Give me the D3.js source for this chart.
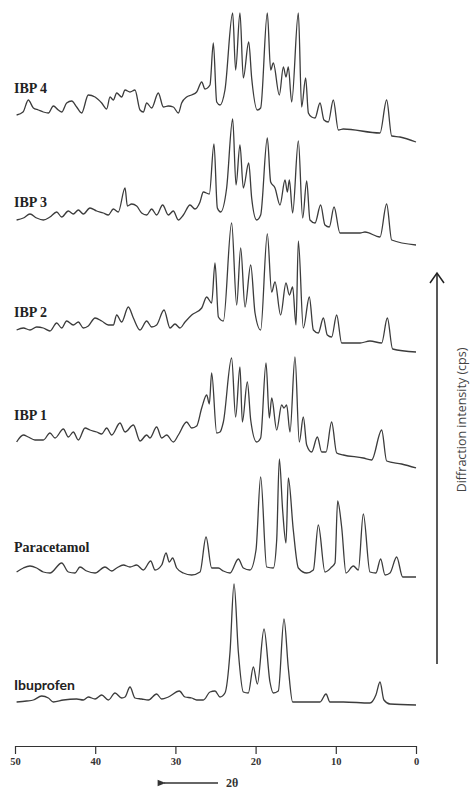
<!DOCTYPE html>
<html>
<head>
<meta charset="utf-8">
<script src="https://cdn.jsdelivr.net/npm/d3@7"></script>
<style>
    body { margin: 0; background: #fff; }
    .trace { fill: none; stroke: #3c3c3c; stroke-width: 1.3; stroke-linejoin: round; }
    .sampleLabel { font-family: "Liberation Serif", serif; font-weight: bold; font-size: 14px; fill: #222; }
    .axis text { font-family: "Liberation Serif", serif; font-weight: bold; font-size: 10.5px; fill: #333; }
    .axis path, .axis line { stroke: #333; stroke-width: 1.2; }
</style>
</head>
<body>
<script>
//XRD patterns of ibuprofen, paracetamol and the IBP 1-4 samples

//sample names, top to bottom
var samples = ["IBP 4", "IBP 3", "IBP 2", "IBP 1", "Paracetamol", "Ibuprofen"];

//vertical offset of each pattern (same units as the intensities)
var offsets = [601, 501, 391, 276, 166, 36];

//x axis ticks (2 theta, degrees)
var xTicks = [50, 40, 30, 20, 10, 0];

//patterns as [2theta, intensity]
var ibp4 = [[49.8,30],[49.0,33],[48.34,45],[47.71,37],[47.09,35],[46.47,33],[45.84,32],[45.22,39],[44.6,35],[44.18,33],
    [43.56,42],[42.93,44],[42.31,38],[41.69,32],[40.86,50],[40.02,48],[39.19,42],[38.57,36],[38.15,48],[37.74,45],
    [37.32,52],[36.7,48],[36.28,55],[35.66,53],[35.04,55],[34.41,35],[34.0,33],[33.58,42],[32.96,37],[32.13,52],
    [31.5,38],[30.88,39],[30.26,38],[29.63,32],[29.22,42],[28.6,48],[27.97,50],[27.35,53],[26.72,63],[26.31,56],
    [25.69,60],[25.27,102],[24.85,43],[24.44,40],[23.82,55],[22.86,132],[22.49,75],[21.95,132],[21.53,67],[20.86,103],
    [20.49,67],[19.78,35],[19.37,37],[18.54,132],[18.12,75],[17.79,82],[17.04,50],[16.54,78],[16.21,68],[15.92,78],
    [15.5,43],[14.67,132],[14.26,38],[13.76,67],[13.42,32],[13.01,28],[12.59,27],[11.97,42],[11.47,25],[10.93,23],
    [10.31,45],[9.68,15],[9.06,16],[4.49,12],[3.66,45],[3.03,9],[2.0,8],[0,3]];

var ibp3 = [[49.8,25],[48.96,27],[48.13,31],[47.3,27],[46.47,25],[45.64,28],[44.8,33],[44.18,28],[43.35,34],[42.73,31],
    [42.1,35],[41.48,31],[40.65,37],[39.82,34],[38.99,32],[38.36,30],[37.74,36],[37.12,33],[36.28,57],[35.99,39],
    [35.45,41],[34.83,39],[34.21,32],[33.58,30],[32.96,36],[32.34,30],[31.59,40],[30.88,30],[30.26,34],[29.63,25],
    [29.01,30],[28.18,40],[27.56,36],[26.93,43],[26.52,53],[25.77,51],[25.19,101],[24.77,37],[24.36,33],[23.61,57],
    [22.86,126],[22.44,60],[21.95,100],[21.53,57],[20.86,82],[20.49,47],[19.87,25],[19.37,30],[18.54,107],[18.12,63],
    [17.58,57],[16.96,40],[16.33,65],[16.04,53],[15.79,65],[15.38,32],[14.67,104],[14.13,27],[13.63,64],[13.22,25],
    [12.59,22],[11.89,40],[11.35,20],[10.81,18],[10.22,38],[9.48,12],[6.98,12],[6.36,13],[4.49,8],[3.66,41],
    [3.03,5],[0,0]];

var ibp2 = [[49.8,25],[48.96,27],[48.13,25],[47.3,28],[46.47,27],[45.64,24],[44.8,32],[44.18,27],[43.56,34],[42.73,30],
    [42.1,33],[41.48,27],[40.86,29],[40.02,37],[39.19,34],[38.36,30],[37.74,30],[37.32,40],[36.7,33],[35.87,48],
    [35.24,37],[34.41,25],[33.58,34],[32.96,28],[32.34,30],[31.42,45],[30.67,27],[30.05,31],[29.43,27],[28.8,33],
    [27.97,40],[26.72,47],[26.1,58],[25.48,52],[25.06,92],[24.64,38],[24.02,34],[22.99,132],[22.36,50],[21.86,107],
    [21.32,48],[20.61,90],[20.07,42],[19.37,25],[18.54,121],[18.0,63],[17.58,73],[16.88,40],[16.21,72],[15.79,60],
    [15.38,68],[14.96,30],[14.67,114],[14.05,27],[13.3,58],[12.8,25],[12.18,22],[11.55,37],[11.06,20],[10.52,18],
    [9.89,40],[9.27,12],[6.98,12],[5.74,14],[4.28,12],[3.57,37],[2.92,6],[0,3]];

var ibp1 = [[49.8,28],[48.96,35],[48.34,33],[47.51,30],[46.47,30],[45.64,37],[45.01,32],[43.97,41],[43.35,33],[42.73,38],
    [42.1,30],[41.27,42],[40.65,40],[39.82,38],[39.19,36],[38.57,42],[37.94,35],[36.91,47],[36.28,38],[35.24,45],
    [34.41,29],[33.58,35],[33.17,32],[32.34,43],[31.71,32],[31.09,35],[30.26,28],[29.63,35],[28.6,48],[27.97,42],
    [27.35,44],[26.72,62],[26.1,75],[25.77,66],[25.48,97],[24.85,37],[24.44,38],[24.02,48],[22.99,112],[22.49,53],
    [21.95,103],[21.65,48],[21.03,88],[20.61,50],[19.87,28],[19.37,32],[18.7,107],[18.29,52],[17.99,72],[17.37,40],
    [16.75,65],[16.46,62],[16.13,65],[15.71,38],[15.09,113],[14.55,28],[14.05,53],[13.63,25],[13.01,18],[12.3,33],
    [11.76,18],[11.22,18],[10.52,48],[9.89,17],[9.06,15],[6.57,12],[5.53,10],[4.28,40],[3.66,9],[1.79,6],[0,2]];

var paracetamol = [[49.8,8],[48.96,12],[48.13,14],[47.3,12],[46.47,8],[45.64,7],[44.18,17],[43.35,8],[42.52,7],[41.9,13],
    [41.06,9],[40.02,7],[38.78,13],[37.94,9],[37.32,12],[36.49,15],[35.66,13],[34.83,15],[34.0,10],[33.08,19],
    [32.54,10],[31.71,15],[31.17,27],[30.76,18],[30.34,22],[29.84,12],[29.01,7],[27.97,5],[26.93,8],[26.18,43],
    [25.48,12],[24.65,12],[24.02,9],[23.19,7],[22.15,21],[21.53,12],[20.7,10],[19.95,30],[19.37,103],[18.62,13],
    [17.79,12],[17.37,40],[17.04,121],[16.63,70],[16.21,37],[15.92,102],[15.3,50],[14.67,12],[13.63,7],[12.8,10],
    [12.18,55],[11.35,8],[10.52,13],[10.1,17],[9.77,79],[9.27,53],[8.73,7],[7.81,14],[7.19,10],[6.57,66],
    [5.74,8],[5.0,7],[4.41,21],[3.86,5],[3.24,7],[2.41,23],[1.66,3],[0.96,3],[0,3]];

var ibuprofen = [[49.8,8],[48.55,9],[47.71,10],[46.67,14],[45.84,12],[45.22,8],[43.97,10],[42.31,11],[41.48,10],[40.86,13],
    [40.02,11],[39.19,15],[38.36,10],[37.53,17],[36.7,12],[36.28,13],[35.66,23],[35.04,12],[34.21,11],[33.37,10],
    [32.34,16],[31.71,11],[30.88,13],[29.51,19],[28.8,13],[27.97,12],[27.35,10],[26.52,10],[25.69,18],[25.06,19],
    [24.44,13],[23.82,17],[23.19,58],[22.69,126],[22.15,58],[21.53,18],[20.91,17],[20.28,43],[19.78,26],[18.95,81],
    [18.21,28],[17.79,17],[17.17,19],[16.46,91],[15.92,42],[15.38,8],[14.46,8],[11.97,8],[11.22,16],[10.73,8],
    [9.06,8],[5.74,7],[5.0,15],[4.49,28],[4.0,10],[3.24,6],[0,5]];

var patterns = [ibp4, ibp3, ibp2, ibp1, paracetamol, ibuprofen];

//label baselines and fonts (layout, not data)
var labelY = [93, 207, 317, 420, 552, 690];
var labelFont = ["Liberation Serif", "Liberation Serif", "Liberation Serif", "Liberation Serif", "Liberation Serif", "Lato"];

var width = 474,
    height = 794,
    axisY = 746;

var xScale = d3.scaleLinear()
    .domain([50, 0])
    .range([15, 416]);

var yScale = d3.scaleLinear()
    .domain([0, axisY])
    .range([axisY, 0]);

var svg = d3.select("body")
    .append("svg")
    .attr("width", width)
    .attr("height", height);

//draw the stacked patterns
patterns.forEach(function(data, i){
    var line = d3.line()
        .curve(d3.curveMonotoneX)
        .x(function(d){ return xScale(d[0]); })
        .y(function(d){ return yScale(offsets[i] + d[1]); });

    svg.append("path")
        .datum(data)
        .attr("class", "trace")
        .attr("d", line);

    svg.append("text")
        .attr("class", "sampleLabel")
        .attr("x", 14)
        .attr("y", labelY[i])
        .style("font-family", labelFont[i])
        .text(samples[i]);
});

//2 theta axis
var xAxis = d3.axisBottom(xScale)
    .tickValues(xTicks)
    .tickSize(8)
    .tickSizeOuter(0)
    .tickPadding(4);

svg.append("g")
    .attr("class", "axis")
    .attr("transform", "translate(0," + axisY + ")")
    .call(xAxis);

//arrow under the axis pointing to higher angles
svg.append("defs").append("marker")
    .attr("id", "head")
    .attr("viewBox", "0 0 10 10")
    .attr("refX", 2)
    .attr("refY", 5)
    .attr("markerWidth", 6)
    .attr("markerHeight", 5)
    .attr("orient", "auto")
    .append("path")
    .attr("d", "M10,1 L0,5 L10,9 Z")
    .attr("fill", "#333");

svg.append("line")
    .attr("x1", 218)
    .attr("x2", 164)
    .attr("y1", 783)
    .attr("y2", 783)
    .attr("stroke", "#333")
    .attr("stroke-width", 1.6)
    .attr("marker-end", "url(#head)");

svg.append("text")
    .attr("x", 226)
    .attr("y", 787)
    .style("font-family", "Liberation Serif, serif")
    .style("font-size", "12px")
    .style("font-weight", "bold")
    .style("fill", "#333")
    .text("2θ");

//intensity arrow on the right
svg.append("line")
    .attr("x1", 437)
    .attr("x2", 437)
    .attr("y1", 664)
    .attr("y2", 274)
    .attr("stroke", "#222")
    .attr("stroke-width", 1.5);

svg.append("path")
    .attr("d", "M430,283 L437,273 L444,283")
    .attr("fill", "none")
    .attr("stroke", "#222")
    .attr("stroke-width", 1.5);

svg.append("text")
    .attr("transform", "translate(466,420) rotate(-90)")
    .attr("text-anchor", "middle")
    .style("font-family", "Open Sans, sans-serif")
    .style("font-size", "12.5px")
    .style("fill", "#444")
    .text("Diffraction intensity (cps)");
</script>
</body>
</html>
